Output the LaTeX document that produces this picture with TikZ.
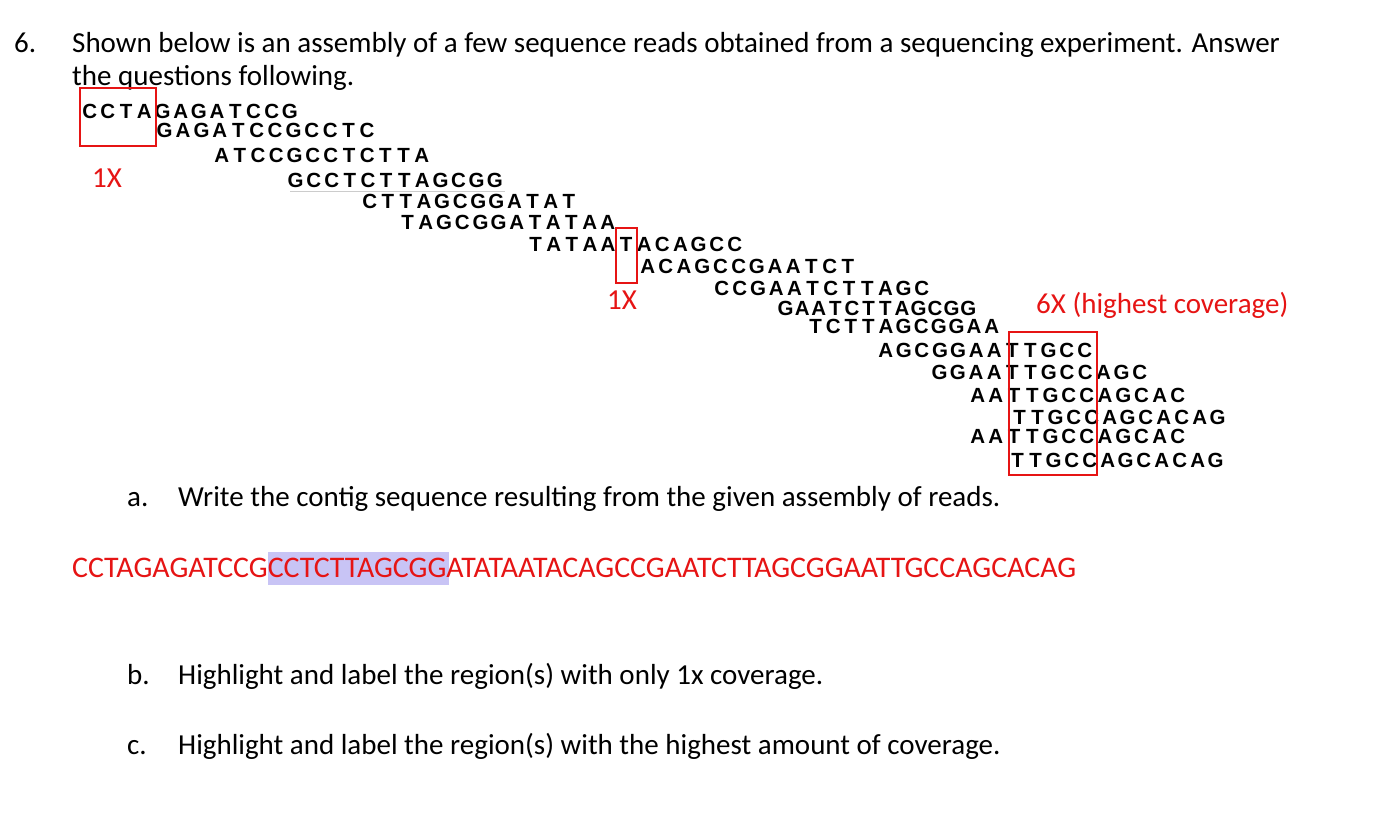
\documentclass[tikz,border=0pt]{standalone}
\usepackage{fontspec}
\setmainfont{Carlito}
\newfontfamily\readfont{Liberation Sans}
\definecolor{myred}{RGB}{230,20,20}
\definecolor{hilite}{RGB}{200,196,245}
\newlength\pitch
\def\spread#1{\spreadi#1\relax}
\def\spreadi#1{\ifx#1\relax\else\makebox[\pitch]{#1}\expandafter\spreadi\fi}
\begin{document}
\begin{tikzpicture}[x=1pt,y=-1pt,
  txt/.style={anchor=base west,inner sep=0pt,font=\fontsize{29}{34}\selectfont},
  redtxt/.style={txt,text=myred},
  redbox/.style={draw=myred,line width=1.6pt}]
\useasboundingbox (0,0) rectangle (1398,832);
\fill[white] (0,0) rectangle (1398,832);
\node[txt] (n6) at (14,53) {6.};
\node[txt] (t1) at (72,53) {Shown below is an assembly of a few sequence reads obtained from a sequencing experiment. Answer};
\node[txt] (t2) at (72,86) {the questions following.};
% reads
\newcommand\rd[5]{\setlength\pitch{#3pt}\node[anchor=base west,inner sep=0pt,font=\readfont\bfseries\fontsize{20.5}{22}\selectfont] (#5) at (#1-#3/2+7.5,#2) {\spread{#4}};}
\rd{82}{119}{18.2}{CCTAGAGATCCG}{r1}
\rd{157}{138}{18.4}{GAGATCCGCCTC}{r2}
\rd{214}{163}{18.2}{ATCCGCCTCTTA}{r3}
\rd{288}{187}{18.1}{GCCTCTTAGCGG}{r4}
\rd{362}{208}{18.1}{CTTAGCGGATAT}{r5}
\rd{400}{229}{18.2}{TAGCGGATATAA}{r6}
\rd{528}{251}{18.1}{TATAATACAGCC}{r7}
\rd{640}{273}{18.2}{ACAGCCGAATCT}{r8}
\rd{714}{295}{18.2}{CCGAATCTTAGC}{r9}
\rd{778}{315}{16.6}{GAATCTTAGCGG}{r10}
\rd{808}{333}{17.6}{TCTTAGCGGAA}{r11}
\rd{878}{357}{18.1}{AGCGGAATTGCC}{r12}
\rd{932}{379}{18.2}{GGAATTGCCAGC}{r13}
\rd{970}{402}{18.2}{AATTGCCAGCAC}{r14}
\rd{1012}{424}{18.0}{TTGCCAGCACAG}{r15}
\rd{970}{443}{18.2}{AATTGCCAGCAC}{r16}
\rd{1010}{467}{18.0}{TTGCCAGCACAG}{r17}
\draw[gray!40,line width=0.6pt] (290,191) -- (505,191);
% red boxes
\draw[redbox] (80,88) rectangle (156,146);
\draw[redbox] (616,228) rectangle (637,283);
\draw[redbox] (1009,332) rectangle (1097,475);
\node[redtxt] (l1) at (92,187) {1X};
\node[redtxt] (l2) at (607,309) {1X};
\node[redtxt] (l3) at (1036,313) {6X (highest coverage)};
% questions
\node[txt] (qa) at (127,506) {a.};
\node[txt] (qat) at (178,506) {Write the contig sequence resulting from the given assembly of reads.};
\fill[hilite] (268,552) rectangle (449,585);
\node[redtxt,font=\fontsize{29.9}{34}\selectfont] (c) at (72,577) {CCTAGAGATCCGCCTCTTAGCGGATATAATACAGCCGAATCTTAGCGGAATTGCCAGCACAG};
\node[txt] (qb) at (127,684) {b.};
\node[txt] (qbt) at (178,684) {Highlight and label the region(s) with only 1x coverage.};
\node[txt] (qc) at (127,754) {c.};
\node[txt] (qct) at (178,754) {Highlight and label the region(s) with the highest amount of coverage.};
\end{tikzpicture}
\end{document}
